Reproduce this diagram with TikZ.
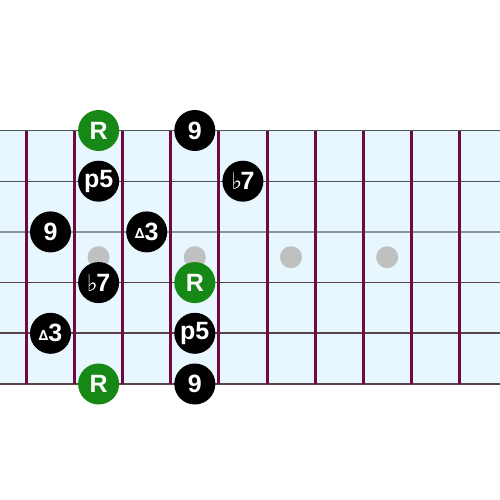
\documentclass[tikz,border=0pt]{standalone}
\usepackage{fontspec}
\setmainfont{Liberation Sans}
\newfontfamily\symfont{DejaVu Sans}
\definecolor{bgblue}{HTML}{E8F6FE}
\definecolor{fretcol}{HTML}{6E0A40}
\definecolor{strA}{HTML}{4A5560}
\definecolor{strB}{HTML}{8A949C}
\definecolor{strC}{HTML}{5A4548}
\definecolor{rootgreen}{HTML}{168816}
\definecolor{inlay}{HTML}{C0C0C0}
\tikzset{
  notedot/.style={circle, fill=black, minimum size=41pt, inner sep=0pt, text=white, font=\fontsize{25}{26}\selectfont\bfseries},
  rootdot/.style={notedot, fill=rootgreen},
  inlaydot/.style={circle, fill=inlay, minimum size=22pt, inner sep=0pt},
  fretline/.style={draw=fretcol, line width=3pt},
}
\newcommand{\tri}{{\symfont\fontsize{14}{14}\selectfont\raisebox{1.5pt}{∆}}}
\newcommand{\flt}{{\symfont\fontsize{23}{23}\selectfont ♭}}
\begin{document}
\begin{tikzpicture}[x=1pt,y=-1pt]
\useasboundingbox (0,0) rectangle (500,500);
\fill[bgblue] (0,130.5) rectangle (500,384);
% strings
\coordinate (s1l) at (0,130.5); \coordinate (s1r) at (500,130.5);
\coordinate (s2l) at (0,181.2); \coordinate (s2r) at (500,181.2);
\coordinate (s3l) at (0,231.9); \coordinate (s3r) at (500,231.9);
\coordinate (s4l) at (0,282.6); \coordinate (s4r) at (500,282.6);
\coordinate (s5l) at (0,333.3); \coordinate (s5r) at (500,333.3);
\coordinate (s6l) at (0,384); \coordinate (s6r) at (500,384);
\draw[strA, line width=1pt] (s1l) -- (s1r);
\draw[strA, line width=1.1pt] (s2l) -- (s2r);
\draw[strB, line width=1.3pt] (s3l) -- (s3r);
\draw[strC, line width=1.7pt] (s4l) -- (s4r);
\draw[strC, line width=2pt] (s5l) -- (s5r);
\draw[strC, line width=2.4pt] (s6l) -- (s6r);
% frets
\foreach \i/\x in {1/26.5,2/74.6,3/122.7,4/170.8,5/218.9,6/267,7/315.1,8/363.2,9/411.3,10/459.4}{
  \coordinate (ft\i) at (\x,130.5);
  \coordinate (fb\i) at (\x,384);
  \draw[fretline] (ft\i) -- (fb\i);
}
% inlays
\node[inlaydot] (in1) at (98.6,257.2) {};
\node[inlaydot] (in2) at (194.8,257.2) {};
\node[inlaydot] (in3) at (291,257.2) {};
\node[inlaydot] (in4) at (387.2,257.2) {};
% notes
\node[rootdot] (n1) at (98.6,130.5) {R};
\node[notedot] (n2) at (194.8,130.5) {9};
\node[notedot] (n3) at (98.6,181.2) {p5};
\node[notedot] (n4) at (242.9,181.2) {\flt\kern-1.5pt7};
\node[notedot] (n5) at (50.5,231.9) {9};
\node[notedot] (n6) at (146.7,231.9) {\tri3};
\node[notedot] (n7) at (98.6,282.6) {\flt\kern-1.5pt7};
\node[rootdot] (n8) at (194.8,282.6) {R};
\node[notedot] (n9) at (50.5,333.3) {\tri3};
\node[notedot] (n10) at (194.8,333.3) {p5};
\node[rootdot] (n11) at (98.6,384) {R};
\node[notedot] (n12) at (194.8,384) {9};
\end{tikzpicture}
\end{document}
